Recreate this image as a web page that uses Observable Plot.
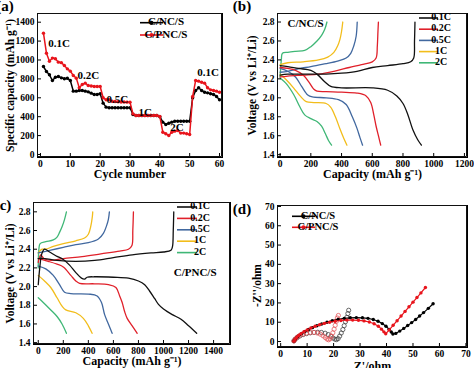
<!DOCTYPE html>
<html><head><meta charset="utf-8">
<script src="https://cdn.jsdelivr.net/npm/d3@7"></script>
<script src="https://cdn.jsdelivr.net/npm/@observablehq/plot@0.6"></script>
<style>
body{margin:0;background:#fff;}
#fig{position:relative;width:474px;height:368px;overflow:hidden;background:#fff;}
#fig svg{position:absolute;overflow:visible;}
</style></head><body><div id="fig"></div>
<script>
// ---------- Panel (a): rate capability ----------
const cycles = d3.range(1, 61);
const capNC = [931,878,843,783,818,825,811,801,807,783, 670,670,677,677,670,663,649,635,635,642,
  543,501,494,494,494,494,494,494,494,494, 423,413,413,413,413,413,413,413,413,400,
  342,317,331,342,352,352,352,352,352,352, 600,677,706,677,659,652,642,635,614,579];
const capPNC = [1284,1072,987,1020,1013,977,972,942,906,882, 836,808,706,741,755,730,725,720,720,720,
  600,579,579,564,561,558,556,555,554,553, 430,413,413,413,413,413,413,413,413,402,
  236,219,201,236,247,254,226,226,219,212, 614,783,776,765,755,706,684,677,670,659];
const rateText = ["0.1C","0.2C","0.5C","1C","2C","0.1C"];
const rateCycle = [6.2,16,25.8,35.1,45.7,56.2];
const rateCap = [1171,836,579,448,289,871];
const aXTicks = [0,10,20,30,40,50,60];
const aYTicks = [0,200,400,600,800,1000,1200,1400];

// ---------- Panel (b): C/NC/S voltage profiles ----------
const b01d = [[0,2.34],[50,2.33],[120,2.31],[200,2.29],[240,2.25],[290,2.17],[330,2.12],[400,2.105],[600,2.105],[700,2.08],[760,2.02],[800,1.94],[830,1.83],[865,1.66],[895,1.56],[920,1.5]];
const b01c = [[0,2.24],[50,2.25],[150,2.25],[300,2.25],[400,2.26],[500,2.28],[600,2.32],[700,2.34],[800,2.36],[850,2.38],[870,2.42],[875,2.6],[878,2.8]];
const b02d = [[0,2.32],[50,2.31],[100,2.29],[150,2.24],[190,2.16],[220,2.09],[240,2.07],[300,2.065],[400,2.06],[500,2.05],[560,2.02],[590,1.95],[610,1.82],[625,1.7],[640,1.6],[655,1.5]];
const b02c = [[0,2.22],[50,2.23],[150,2.24],[250,2.25],[350,2.28],[450,2.32],[530,2.35],[600,2.38],[625,2.42],[633,2.55],[637,2.7],[640,2.8]];
const b05d = [[0,2.31],[50,2.28],[100,2.22],[140,2.12],[180,2.03],[210,2.01],[300,2.0],[380,1.98],[430,1.93],[470,1.8],[500,1.68],[520,1.58],[537,1.5]];
const b05c = [[0,2.27],[50,2.28],[100,2.3],[200,2.33],[300,2.36],[380,2.39],[430,2.42],[460,2.47],[480,2.55],[495,2.65],[502,2.8]];
const b1d = [[0,2.25],[40,2.19],[90,2.1],[130,2.02],[170,1.96],[220,1.95],[300,1.94],[330,1.9],[360,1.8],[390,1.67],[415,1.57],[435,1.5]];
const b1c = [[0,2.35],[50,2.37],[150,2.38],[250,2.4],[310,2.43],[350,2.48],[375,2.55],[390,2.62],[400,2.7],[408,2.8]];
const b2d = [[0,2.21],[40,2.15],[90,2.03],[130,1.9],[160,1.82],[200,1.78],[240,1.75],[270,1.7],[295,1.62],[315,1.55],[335,1.5]];
const b2c = [[0,2.22],[8,2.4],[15,2.47],[50,2.48],[100,2.49],[160,2.5],[200,2.54],[240,2.6],[270,2.66],[290,2.72],[305,2.8]];

// ---------- Panel (c): C/PNC/S voltage profiles ----------
const c01d = [[0,2.02],[12,2.2],[28,2.35],[50,2.4],[90,2.37],[140,2.33],[200,2.29],[250,2.23],[300,2.15],[345,2.09],[370,2.08],[390,2.1],[450,2.105],[600,2.1],[720,2.09],[800,2.06],[850,2.02],[890,1.95],[930,1.87],[960,1.81],[1000,1.76],[1070,1.7],[1140,1.65],[1200,1.58],[1265,1.5]];
const c01c = [[0,2.3],[50,2.3],[150,2.28],[300,2.27],[450,2.28],[600,2.31],[750,2.34],[900,2.36],[1000,2.37],[1060,2.39],[1072,2.43],[1078,2.6],[1082,2.8]];
const c02d = [[0,2.3],[80,2.27],[150,2.24],[200,2.21],[260,2.12],[300,2.06],[330,2.035],[450,2.03],[560,2.02],[620,1.99],[650,1.9],[670,1.83],[690,1.73],[710,1.66],[750,1.58],[790,1.5]];
const c02c = [[0,2.26],[20,2.34],[45,2.3],[100,2.28],[200,2.3],[350,2.32],[500,2.35],[650,2.38],[720,2.4],[748,2.44],[755,2.6],[760,2.8]];
const c05d = [[0,2.22],[60,2.19],[120,2.12],[170,2.02],[210,1.94],[260,1.925],[400,1.92],[470,1.9],[505,1.83],[530,1.7],[560,1.6],[590,1.5]];
const c05c = [[0,2.36],[100,2.39],[200,2.42],[300,2.45],[400,2.47],[480,2.51],[520,2.57],[545,2.65],[560,2.72],[568,2.8]];
const c1d = [[0,2.12],[50,2.06],[100,1.99],[150,1.88],[190,1.79],[220,1.75],[300,1.72],[360,1.66],[400,1.58],[430,1.5]];
const c1c = [[0,2.36],[30,2.4],[60,2.4],[120,2.43],[200,2.46],[300,2.49],[370,2.52],[400,2.56],[420,2.65],[432,2.75],[435,2.8]];
const c2d = [[0,1.88],[40,1.83],[100,1.75],[150,1.68],[190,1.6],[225,1.5]];
const c2c = [[0,2.2],[5,2.4],[15,2.46],[60,2.48],[120,2.5],[150,2.53],[170,2.58],[190,2.64],[210,2.72],[225,2.8]];

const rates = ["0.1C","0.2C","0.5C","1C","2C"];
const rateColors = ["#111111","#e0202a","#41689f","#f2bd1b","#3fb776"];
const vTicks = [1.4,1.6,1.8,2.0,2.2,2.4,2.6,2.8];

// ---------- Panel (d): Nyquist plots ----------
const dNC = [[5.0,0.3],[5.5,1.2],[6.2,2.2],[7.0,3.2],[8.0,4.2],[9.2,5.2],[10.5,6.2],[12.0,7.2],[13.7,8.2],[15.5,9.1],[17.5,10.0],[19.5,10.8],[21.7,11.5],[24.0,12.0],[26.3,12.3],[28.6,12.4],[30.9,12.3],[33.0,12.0],[35.0,11.4],[36.8,10.5],[38.4,9.3],[39.8,7.9],[41.0,6.3],[41.8,4.9],[42.4,3.9],[43.5,4.2],[45.0,5.4],[46.5,6.8],[48.0,8.3],[49.5,9.8],[51.0,11.4],[52.5,13.2],[54.0,15.0],[55.8,17.2],[57.6,19.6]];
const dPNC = [[5.0,0.2],[5.4,1.1],[6.0,2.1],[6.8,3.1],[7.7,4.1],[8.8,5.1],[10.0,6.0],[11.4,7.0],[13.0,7.9],[14.7,8.7],[16.5,9.4],[18.5,10.0],[20.6,10.5],[22.8,10.9],[25.0,11.1],[27.2,11.1],[29.4,11.0],[31.5,10.7],[33.5,10.1],[35.3,9.2],[36.9,7.9],[38.1,6.4],[39.0,5.0],[39.7,4.0],[41.0,6.0],[42.5,8.4],[44.0,10.8],[45.5,13.2],[47.0,15.6],[48.5,18.0],[50.0,20.4],[51.5,22.8],[53.0,25.2],[54.7,28.0]];
const dNCopen = [[5.0,0.3],[5.5,1.2],[6.3,2.1],[7.3,2.9],[8.5,3.6],[9.8,4.1],[11.2,4.5],[12.6,4.7],[14.0,4.8],[15.4,4.7],[16.8,4.3],[18.0,3.6],[19.0,2.7],[19.8,1.8],[20.5,1.2],[21.1,1.0],[21.7,1.5],[22.3,2.8],[22.9,4.4],[23.5,6.2],[24.0,8.2],[24.5,10.3],[25.0,12.5],[25.4,14.5],[25.7,16.2]];
const dPNCopen = [[5.0,0.3],[5.5,1.3],[6.3,2.3],[7.3,3.2],[8.5,3.9],[9.8,4.4],[11.2,4.7],[12.6,4.7],[13.9,4.4],[15.0,3.8],[16.0,3.0],[16.8,2.1],[17.5,1.3],[18.1,0.9],[18.7,1.4],[19.2,2.8],[19.7,4.5],[20.2,6.4],[20.6,8.4],[21.0,10.4],[21.4,12.2],[21.8,13.5]];
const dTicks = [0,10,20,30,40,50,60,70];

// ---------- helpers ----------
const FONT = '"Liberation Serif","Times New Roman",serif';
const RED = "#e8141c";
const fig = document.getElementById("fig");

function panel(cfg) {
  const W = 237, H = 184, m = cfg.m;
  const fw = W - m.l - m.r, fh = H - m.t - m.b;
  const svg = Plot.plot({
    width: W, height: H,
    marginLeft: m.l, marginRight: m.r, marginTop: m.t, marginBottom: m.b,
    x: {domain: cfg.x.domain},
    y: {domain: cfg.y.domain},
    style: {fontFamily: FONT, fontWeight: "bold", fontSize: "10px", background: "transparent", color: "black"},
    marks: [
      ...cfg.marks,
      Plot.frame({stroke: "black", strokeWidth: 1}),
      Plot.tickX(cfg.x.ticks, {x: d => d, insetTop: fh - 4, stroke: "black"}),
      Plot.tickY(cfg.y.ticks, {y: d => d, insetRight: fw - 4, stroke: "black"}),
      Plot.axisX({ticks: cfg.x.ticks, tickSize: 0, tickPadding: 3, label: null, tickFormat: cfg.x.fmt || d3.format("d"), fontSize: 9.5, fill: "black"}),
      Plot.axisY({ticks: cfg.y.ticks, tickSize: 0, tickPadding: 3, label: null, tickFormat: cfg.y.fmt || d3.format("d"), fontSize: 9.5, fill: "black"}),
      Plot.text([cfg.x.label], {text: d => d, frameAnchor: "bottom", dy: cfg.x.labelDy, textAnchor: "middle", lineAnchor: "middle", fontSize: 12, fill: "black"}),
      Plot.text([cfg.y.label], {text: d => d, frameAnchor: "left", dx: cfg.y.labelDx, dy: cfg.y.labelDy || 0, rotate: -90, textAnchor: "middle", lineAnchor: "middle", fontSize: 11.5, fill: "black"})
    ]
  });
  svg.style.left = cfg.left + "px";
  svg.style.top = cfg.top + "px";
  fig.appendChild(svg);
  const s = d3.select(svg);
  // explicit border lines along the frame edges (coincide with Plot.frame)
  const x0 = m.l + 0.5, x1 = W - m.r - 0.5, y0 = m.t + 0.5, y1 = H - m.b - 0.5;
  [[x0, y0, x1, y0], [x0, y1, x1, y1], [x0, y0, x0, y1], [x1, y0, x1, y1]].forEach(([a, b, c, d]) =>
    s.append("line").attr("x1", a).attr("y1", b).attr("x2", c).attr("y2", d).attr("stroke", "#111").attr("stroke-width", 1));
  s.append("text").attr("x", cfg.tag[0]).attr("y", cfg.tag[1]).attr("font-size", 15).attr("font-weight", "bold")
    .attr("font-family", FONT).attr("dominant-baseline", "middle").text(cfg.tag[2]);
  return s;
}

function legend(s, items, o) {
  items.forEach((it, i) => {
    const y = o.y0 + i * o.dy;
    s.append("line").attr("x1", o.x0).attr("x2", o.x1).attr("y1", y).attr("y2", y)
      .attr("stroke", it.color).attr("stroke-width", 1.6);
    if (o.dot) s.append("circle").attr("cx", (o.x0 + o.x1) / 2).attr("cy", y).attr("r", 2).attr("fill", it.color);
    s.append("text").attr("x", o.x1 + 3).attr("y", y).attr("dominant-baseline", "middle")
      .attr("font-family", FONT).attr("font-weight", "bold").attr("font-size", o.fs).text(it.label);
  });
}

// ---------- (a) ----------
const aData = cycles.map((c, i) => ({c, nc: capNC[i], pnc: capPNC[i]}));
const sa = panel({
  left: 0, top: 0, m: {l: 37, r: 15, t: 13, b: 27},
  x: {domain: [-1, 61], ticks: aXTicks, label: "Cycle number", labelDy: 16.5},
  y: {domain: [-32, 1492], ticks: aYTicks, label: "Specific capacity (mAh g⁻¹)", labelDx: -27},
  tag: [5, 8, "(a)"],
  marks: [
    Plot.line(aData, {x: "c", y: "nc", stroke: "black", strokeWidth: 1.5}),
    Plot.dot(aData, {x: "c", y: "nc", r: 1.7, fill: "black"}),
    Plot.line(aData, {x: "c", y: "pnc", stroke: RED, strokeWidth: 1.5}),
    Plot.dot(aData, {x: "c", y: "pnc", r: 1.7, fill: RED}),
    Plot.text(rateText, {x: (d, i) => rateCycle[i], y: (d, i) => rateCap[i], text: d => d, fontSize: 11, fill: "black"})
  ]
});
legend(sa, [{label: "C/NC/S", color: "black"}, {label: "C/PNC/S", color: RED}], {x0: 140, x1: 163, y0: 22.7, dy: 12.3, dot: true, fs: 11});

// ---------- (b) & (c) ----------
const bCurves = [[b01d, b01c], [b02d, b02c], [b05d, b05c], [b1d, b1c], [b2d, b2c]];
const cCurves = [[c01d, c01c], [c02d, c02c], [c05d, c05c], [c1d, c1c], [c2d, c2c]];
function curveMarks(curves) {
  const out = [];
  for (let i = curves.length - 1; i >= 0; i--) {
    for (const seg of curves[i]) out.push(Plot.line(seg, {x: d => d[0], y: d => d[1], stroke: rateColors[i], strokeWidth: 1.3, curve: "catmull-rom"}));
  }
  return out;
}
const sb = panel({
  left: 237, top: 0, m: {l: 40, r: 7, t: 13, b: 27},
  x: {domain: [-17, 1220], ticks: [0,200,400,600,800,1000,1200], label: "Capacity (mAh g⁻¹)", labelDy: 16.5},
  y: {domain: [1.37, 2.89], ticks: vTicks, fmt: d3.format(".1f"), label: "Voltage (V vs Li⁺/Li)", labelDx: -25},
  tag: [5, 8, "(b)"],
  marks: [
    ...curveMarks(bCurves),
    Plot.text(["C/NC/S"], {text: d => d, frameAnchor: "top-left", dx: 10, dy: 10, textAnchor: "start", lineAnchor: "middle", fontSize: 11, fill: "black"})
  ]
});
legend(sb, rates.map((r, i) => ({label: r, color: rateColors[i]})), {x0: 182, x1: 201, y0: 18, dy: 11.2, fs: 10});

const sc = panel({
  left: 0, top: 184, m: {l: 33, r: 7, t: 18, b: 24},
  x: {domain: [-38, 1535], ticks: [0,200,400,600,800,1000,1200,1400], label: "Capacity (mAh g⁻¹)", labelDy: 17},
  y: {domain: [1.38, 2.9], ticks: vTicks, fmt: d3.format(".1f"), label: "Voltage (V vs Li⁺/Li)", labelDx: -23},
  tag: [3, 23, "(c)"],
  marks: [
    ...curveMarks(cCurves),
    Plot.text(["C/PNC/S"], {text: d => d, frameAnchor: "top-right", dx: -14, dy: 70, textAnchor: "end", lineAnchor: "middle", fontSize: 11, fill: "black"})
  ]
});
legend(sc, rates.map((r, i) => ({label: r, color: rateColors[i]})), {x0: 177, x1: 197, y0: 23, dy: 11.4, fs: 10});

// ---------- (d) ----------
const sd = panel({
  left: 237, top: 184, m: {l: 40, r: 7, t: 21, b: 21},
  x: {domain: [-1.2, 70.6], ticks: dTicks, label: "Z'/ohm", labelDy: 18.5},
  y: {domain: [-3.1, 70.5], ticks: dTicks, label: "-Z''/ohm", labelDx: -20, labelDy: 9},
  tag: [5, 27, "(d)"],
  marks: [
    Plot.dot(dNCopen, {x: d => d[0], y: d => d[1], r: 2.1, stroke: "#444", strokeWidth: 0.8, fill: "none"}),
    Plot.dot(dPNCopen, {x: d => d[0], y: d => d[1], r: 2.1, stroke: "#e55a5e", strokeWidth: 0.8, fill: "none"}),
    Plot.line(dNC, {x: d => d[0], y: d => d[1], stroke: "black", strokeWidth: 1.2}),
    Plot.dot(dNC, {x: d => d[0], y: d => d[1], r: 1.7, fill: "black"}),
    Plot.line(dPNC, {x: d => d[0], y: d => d[1], stroke: RED, strokeWidth: 1.2}),
    Plot.dot(dPNC, {x: d => d[0], y: d => d[1], r: 1.7, fill: RED})
  ]
});
legend(sd, [{label: "C/NC/S", color: "black"}, {label: "C/PNC/S", color: RED}], {x0: 55, x1: 78, y0: 32.3, dy: 11, dot: true, fs: 10.5});
</script></body></html>
